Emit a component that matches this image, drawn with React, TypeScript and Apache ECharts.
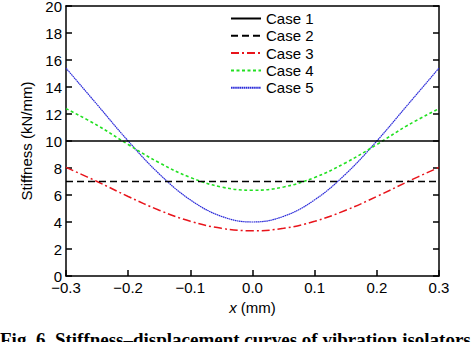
import React, { useEffect, useRef } from "react";
import * as echarts from "echarts";

const xValues = [-0.3, -0.25, -0.2, -0.15, -0.1, -0.05, 0, 0.05, 0.1, 0.15, 0.2, 0.25, 0.3];
const case1 = [10, 10, 10, 10, 10, 10, 10, 10, 10, 10, 10, 10, 10];
const case2 = [7, 7, 7, 7, 7, 7, 7, 7, 7, 7, 7, 7, 7];
const case3 = [8.05, 7.0, 5.89, 4.87, 4.05, 3.53, 3.35, 3.53, 4.05, 4.87, 5.89, 7.0, 8.05];
const case4 = [12.4, 11.17, 9.74, 8.39, 7.3, 6.59, 6.35, 6.59, 7.3, 8.39, 9.74, 11.17, 12.4];
const case5 = [15.4, 12.7, 10.0, 7.56, 5.64, 4.42, 4.0, 4.42, 5.64, 7.56, 10.0, 12.7, 15.4];
const seriesNames = ["Case 1", "Case 2", "Case 3", "Case 4", "Case 5"];
const xTicks = [-0.3, 0.3, 0.1];
const yTicks = [0, 20, 2];
const caption = "Fig. 6  Stiffness\u2013displacement curves of vibration isolators";

const FONT = "Liberation Sans";

export default function App() {
  const ref = useRef<HTMLDivElement>(null);
  useEffect(() => {
    if (!ref.current) return;
    const chart = echarts.init(ref.current, null, { renderer: "svg" });
    const allData = [case1, case2, case3, case4, case5];
    const styles = [
      { color: "#000000", width: 1.5, type: "solid" as any },
      { color: "#000000", width: 1.5, type: [7, 4] },
      { color: "#e8141b", width: 1.5, type: [8, 3, 2, 3] },
      { color: "#22e022", width: 1.6, type: [3, 2.5] },
      { color: "#2b2bd9", width: 1.2, type: [1.6, 0.5] },
    ];
    const series = seriesNames.map((name, i) => ({
      name,
      type: "line",
      xAxisIndex: 0,
      yAxisIndex: 0,
      symbol: "none",
      smooth: i >= 2 ? 0.4 : false,
      data: xValues.map((x, j) => [x, allData[i][j]]),
      lineStyle: styles[i],
      itemStyle: { color: styles[i].color },
      z: 5 - i,
    }));
    const fmt = (v: number) => {
      const s = Math.abs(v) < 1e-9 ? "0.0" : v.toFixed(1);
      return s.replace("-", "\u2212");
    };
    chart.setOption({
      animation: false,
      backgroundColor: "#ffffff",
      grid: {
        left: 66,
        right: 35,
        top: 6,
        bottom: 66,
        outerBoundsMode: "none",
      },
      legend: {
        data: seriesNames,
        orient: "vertical",
        left: 230,
        top: 11,
        itemWidth: 30,
        itemHeight: 15,
        itemGap: 2.3,
        padding: 0,
        itemStyle: { opacity: 0, color: "rgba(0,0,0,0)", borderWidth: 0 },
        textStyle: { fontSize: 15, color: "#000", fontFamily: FONT },
      },
      xAxis: [
        {
          type: "value",
          min: xTicks[0],
          max: xTicks[1],
          interval: xTicks[2],
          name: "{i|x} (mm)",
          nameLocation: "middle",
          nameGap: 22,
          nameTextStyle: {
            fontSize: 15,
            color: "#000",
            fontFamily: FONT,
            rich: { i: { fontStyle: "italic", fontSize: 15, fontFamily: FONT, color: "#000" } },
          },
          axisLine: { show: true, onZero: false, lineStyle: { color: "#000", width: 1.5 } },
          axisTick: { show: true, inside: true, length: 6, lineStyle: { color: "#000", width: 1.5 } },
          axisLabel: { fontSize: 15, color: "#000", fontFamily: FONT, margin: 4, formatter: fmt },
          splitLine: { show: false },
        },
        {
          type: "value",
          position: "top",
          min: xTicks[0],
          max: xTicks[1],
          interval: xTicks[2],
          axisLine: { show: true, onZero: false, lineStyle: { color: "#000", width: 1.5 } },
          axisTick: { show: false },
          axisLabel: { show: false },
          splitLine: { show: false },
        },
      ],
      yAxis: [
        {
          type: "value",
          min: yTicks[0],
          max: yTicks[1],
          interval: yTicks[2],
          name: "Stiffness (kN/mm)",
          nameLocation: "middle",
          nameGap: 24,
          nameTextStyle: { fontSize: 15, color: "#000", fontFamily: FONT },
          axisLine: { show: true, onZero: false, lineStyle: { color: "#000", width: 1.5 } },
          axisTick: { show: true, inside: true, length: 6, lineStyle: { color: "#000", width: 1.5 } },
          axisLabel: { fontSize: 15, color: "#000", fontFamily: FONT, margin: 4 },
          splitLine: { show: false },
        },
        {
          type: "value",
          position: "right",
          min: yTicks[0],
          max: yTicks[1],
          interval: yTicks[2],
          axisLine: { show: true, onZero: false, lineStyle: { color: "#000", width: 1.5 } },
          axisTick: { show: true, inside: true, length: 6, lineStyle: { color: "#000", width: 1.5 } },
          axisLabel: { show: false },
          splitLine: { show: false },
        },
      ],
      graphic: [
        {
          type: "text",
          left: 0,
          top: 330,
          style: {
            text: caption,
            font: 'bold 19px "Liberation Serif"',
            fill: "#000",
          },
        },
      ],
      series,
    });
    return () => chart.dispose();
  }, []);
  return (
    <div
      ref={ref}
      style={{ position: "fixed", left: 0, top: 0, width: 474, height: 342 }}
    />
  );
}
